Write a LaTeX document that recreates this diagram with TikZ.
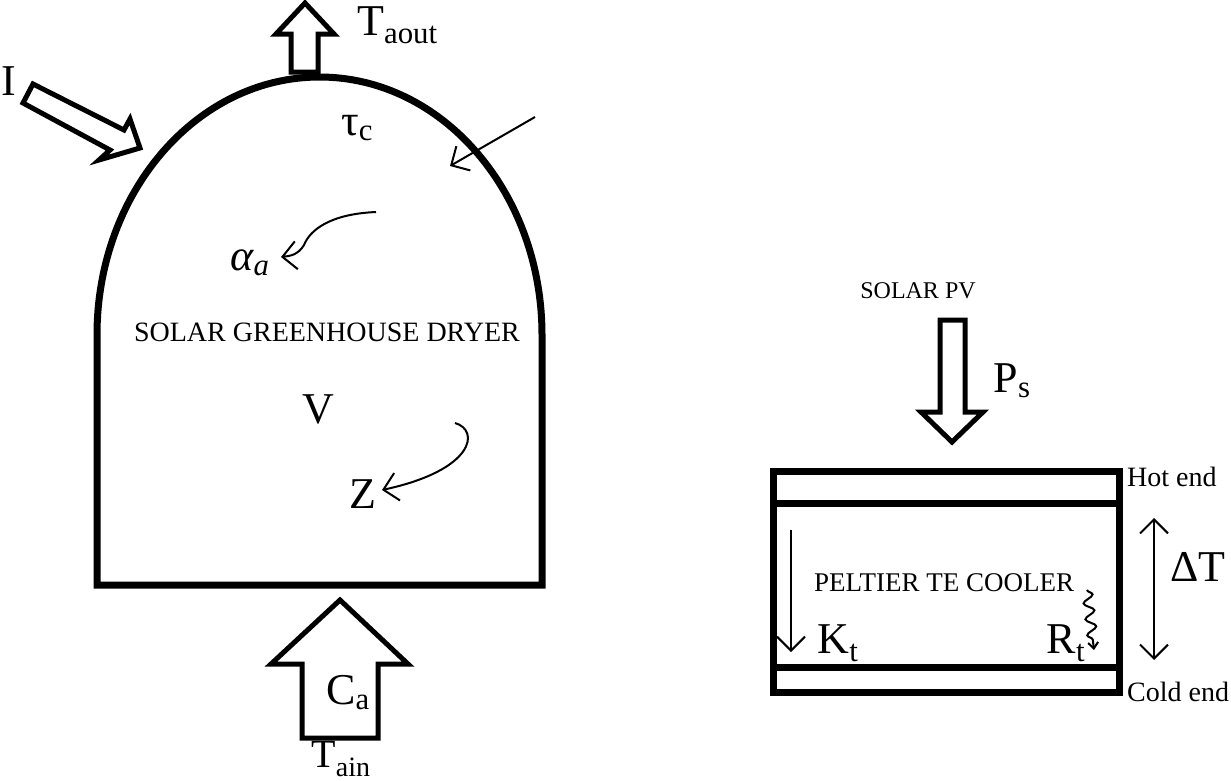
\documentclass[tikz,border=0pt]{standalone}
\usepackage{fontspec}
\setmainfont{Liberation Serif}
\usetikzlibrary{arrows.meta,decorations.pathmorphing}
\begin{document}
\begin{tikzpicture}[x=1pt,y=-1pt,
  thick/.style={line width=7pt},
  hollow/.style={line width=5pt,line join=miter},
  thin/.style={line width=2pt,-{Straight Barb[length=14pt,width=28pt,line width=2pt]}},
  big/.style={font=\fontsize{44}{44}\selectfont,inner sep=0},
  mid/.style={font=\fontsize{28}{28}\selectfont,inner sep=0}]
\useasboundingbox (0,0) rectangle (1231,780);
% dome
\draw[thick] (97,335) -- (97,585) -- (542,585) -- (542,335) arc[start angle=0,end angle=-180,x radius=222.5,y radius=258];
% Taout arrow
\draw[hollow] (291,72) -- (291,34) -- (276,34) -- (305,3) -- (334,34) -- (318,34) -- (318,72) -- cycle;
\node[big,anchor=base west] (taout) at (357,35) {T\textsubscript{aout}};
% I arrow
\draw[hollow] (23,103) -- (33,84) -- (124,130) -- (130,119) -- (140,148) -- (99,160) -- (110,150) -- cycle;
\node[big,anchor=base west] (I) at (1,95) {I};
\node[big,anchor=base] (tau) at (357,135) {τ\textsubscript{c}};
\coordinate (a1) at (535,117); \coordinate (a2) at (450,166);
\draw[thin] (a1) -- (a2);
% alpha
\node[big,anchor=base,font=\fontsize{44}{44}\selectfont\itshape] (al) at (250,270) {α\textsubscript{a}};
\coordinate (b1) at (376,212); \coordinate (b2) at (281,257);
\draw[thin] (b1) .. controls (330,214) and (310,230) .. (304,245) .. controls (298,255) and (290,256) .. (b2);
\node[mid,anchor=base] (sgd) at (327,341) {SOLAR GREENHOUSE DRYER};
\node[big,anchor=base] (V) at (318,423) {V};
\node[big,anchor=base] (Z) at (363,508) {Z};
\coordinate (c1) at (455,423); \coordinate (c2) at (382,490);
\draw[thin] (c1) .. controls (480,430) and (475,470) .. (c2);
% bottom arrow
\draw[hollow] (302,738) -- (302,664) -- (271,664) -- (340,600) -- (408,664) -- (378,664) -- (378,738) -- cycle;
\node[big,anchor=base] (ca) at (348,704) {C\textsubscript{a}};
\node[big,anchor=base,font=\fontsize{40}{40}\selectfont] (tain) at (341,767) {T\textsubscript{ain}};
% right side
\node[mid,anchor=base,font=\fontsize{24}{24}\selectfont] (pv) at (918,298) {SOLAR PV};
\draw[hollow] (940,320) -- (965,320) -- (965,412) -- (983,412) -- (952,442) -- (921,412) -- (940,412) -- cycle;
\node[big,anchor=base] (ps) at (1012,392) {P\textsubscript{s}};
\draw[thick] (773,471) rectangle (1119,692);
\draw[thick] (773,503) -- (1119,503);
\draw[thick] (773,667) -- (1119,667);
\node[mid,anchor=base west] (hot) at (1127,486) {Hot end};
\node[mid,anchor=base west] (cold) at (1127,701) {Cold end};
\coordinate (d1) at (1154,518); \coordinate (d2) at (1154,660);
\draw[line width=2pt,{Straight Barb[length=14pt,width=28pt,line width=2pt]}-{Straight Barb[length=14pt,width=28pt,line width=2pt]}] (d1) -- (d2);
\node[big,anchor=base] (dt) at (1198,581) {ΔT};
\coordinate (k1) at (791,530); \coordinate (k2) at (791,652);
\draw[thin] (k1) -- (k2);
\node[big,anchor=base] (kt) at (838,653) {K\textsubscript{t}};
\node[mid,anchor=base,font=\fontsize{27}{27}\selectfont] (pel) at (944,591) {PELTIER TE COOLER};
\node[big,anchor=base] (rt) at (1066,653) {R\textsubscript{t}};
\coordinate (r1) at (1087,590); \coordinate (r2) at (1094,650);
\draw[line width=2pt,-{Straight Barb[length=6pt,width=10pt,line width=2pt]},decorate,decoration={snake,amplitude=5pt,segment length=16pt,post length=8pt}] (r1) -- (r2);
\end{tikzpicture}
\end{document}
